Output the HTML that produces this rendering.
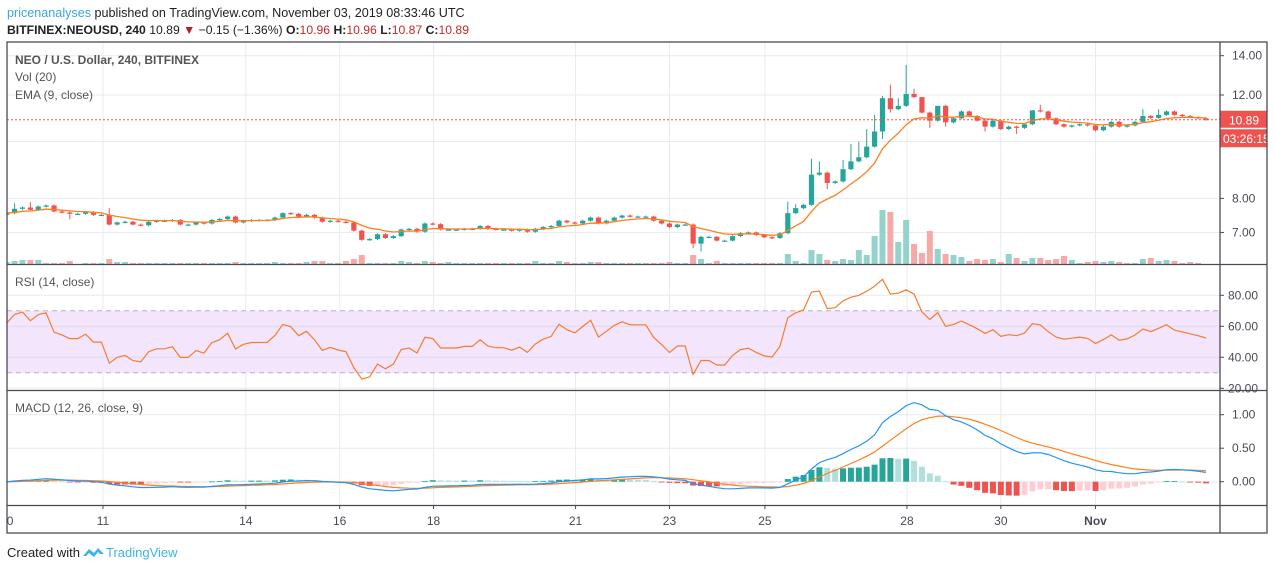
<!DOCTYPE html>
<html><head><meta charset="utf-8">
<style>
body{margin:0;background:#fff;width:1274px;height:570px;overflow:hidden;font-family:"Liberation Sans",sans-serif}
svg text{font-family:"Liberation Sans",sans-serif}
</style></head>
<body>
<svg id="chart" width="1274" height="570" viewBox="0 0 1274 570" xmlns="http://www.w3.org/2000/svg">
<defs>
<clipPath id="cMain"><rect x="7" y="42" width="1213" height="222"/></clipPath>
<clipPath id="cRsi"><rect x="7" y="265" width="1213" height="125"/></clipPath>
<clipPath id="cMacd"><rect x="7" y="391" width="1213" height="114"/></clipPath>
<clipPath id="cAxis"><rect x="7" y="505" width="1213" height="28"/></clipPath>
<clipPath id="cLbl"><rect x="1220" y="100" width="47" height="60"/></clipPath>
</defs>
<text x="7" y="17" font-size="12.6"><tspan fill="#3ba6dc">pricenanalyses</tspan><tspan fill="#222"> published on TradingView.com, November 03, 2019 08:33:46 UTC</tspan></text>
<text x="7" y="34" font-size="12.2" fill="#222"><tspan font-weight="bold">BITFINEX:NEOUSD, 240</tspan><tspan> 10.89 </tspan><tspan fill="#b71c1c">▼</tspan><tspan> −0.15 (−1.36%) </tspan><tspan font-weight="bold">O:</tspan><tspan fill="#c62828">10.96 </tspan><tspan font-weight="bold">H:</tspan><tspan fill="#c62828">10.96 </tspan><tspan font-weight="bold">L:</tspan><tspan fill="#c62828">10.87 </tspan><tspan font-weight="bold">C:</tspan><tspan fill="#c62828">10.89</tspan></text>
<g id="grid"></g>
<g id="main" clip-path="url(#cMain)"></g>
<g id="rsi" clip-path="url(#cRsi)"></g>
<g id="macd" clip-path="url(#cMacd)"></g>
<g id="axes"></g>
<text x="15" y="64" font-size="12" fill="#555" font-weight="bold">NEO / U.S. Dollar, 240, BITFINEX</text>
<text x="15" y="81" font-size="12" fill="#555">Vol (20)</text>
<text x="15" y="99" font-size="12" fill="#555">EMA (9, close)</text>
<text x="15" y="286" font-size="12" fill="#555">RSI (14, close)</text>
<text x="15" y="412" font-size="12" fill="#555">MACD (12, 26, close, 9)</text>
<g fill="none" stroke="#4a4a55" stroke-width="1.3">
<rect x="7" y="42" width="1260" height="491"/>
<line x1="1220" y1="42" x2="1220" y2="533"/>
<line x1="7" y1="264.5" x2="1267" y2="264.5"/>
<line x1="7" y1="390.5" x2="1267" y2="390.5"/>
<line x1="7" y1="505.5" x2="1267" y2="505.5"/>
</g>
<text x="7" y="557" font-size="13" fill="#222">Created with</text>
<g>
<path d="M83 556 l6 -7 l5 4 l4 -5 l6 6 l-4 0 l-2 -2 l-4 5 l-5 -4 l-3 3z" fill="#3db4e8"/>
<text x="106" y="557" font-size="13" fill="#3db4e8">TradingView</text>
</g>
</svg>
<script>
const closes=[7.55,7.68,7.72,7.65,7.75,7.78,7.6,7.57,7.53,7.53,7.58,7.5,7.5,7.22,7.28,7.3,7.22,7.2,7.3,7.33,7.33,7.35,7.22,7.22,7.28,7.25,7.35,7.38,7.45,7.28,7.33,7.35,7.35,7.35,7.42,7.55,7.53,7.45,7.5,7.42,7.3,7.33,7.3,7.28,7.05,6.8,6.82,6.95,6.85,6.9,7.08,7.1,7.02,7.25,7.23,7.08,7.08,7.08,7.1,7.1,7.18,7.1,7.08,7.08,7.05,7.08,7.02,7.1,7.15,7.18,7.33,7.28,7.25,7.33,7.42,7.25,7.33,7.42,7.48,7.45,7.45,7.45,7.33,7.25,7.15,7.22,7.22,6.7,6.88,6.88,6.78,6.78,6.9,6.98,7.0,6.93,6.87,6.85,6.98,7.55,7.7,7.8,8.78,8.85,8.5,8.55,8.97,9.25,9.4,9.8,10.4,11.85,11.35,11.5,12.05,11.9,11.2,10.85,11.5,10.78,10.95,11.25,11.05,10.85,10.6,10.85,10.5,10.6,10.55,10.7,11.3,11.25,10.95,10.7,10.6,10.65,10.7,10.65,10.45,10.6,10.8,10.6,10.65,10.8,11.05,10.97,11.1,11.25,11.1,11.05,11.0,10.95,10.89];
const opens=[7.5].concat(closes.slice(0,-1));
const volumes=[2,3,4,4,4,1,1,1,3,0,1,1,1,5,2,2,1,1,1,1,1,1,1,1,1,1,1,1,1,2,1,1,1,1,2,1,1,1,2,3,3,1,1,3,5,9,1,1,1,1,3,2,1,3,2,1,2,1,1,1,1,1,1,1,1,1,1,3,1,1,3,2,1,1,2,2,1,1,1,1,1,1,1,1,2,1,1,9,5,1,3,1,1,1,1,1,1,1,1,10,3,1,14,10,4,3,5,4,14,9,28,54,52,22,44,20,11,33,15,10,9,7,3,5,4,5,2,10,6,3,6,6,4,5,8,4,1,2,3,2,3,2,1,1,5,6,3,4,3,1,2,1,0];
const highOverrides={1:7.85,3:7.88,13:7.7,87:7.25,99:7.9,100:7.82,102:9.35,103:9.25,106:9.3,107:9.9,108:10.0,109:10.5,110:11.1,111:11.95,112:12.5,113:11.85,114:13.5,115:12.3,116:11.9,118:11.5,130:11.3,131:11.55,144:11.35,146:11.35};
const lowOverrides={8:7.37,87:6.58,88:6.5,104:8.3,111:10.1,112:11.2,117:10.55,119:10.6,124:10.4,128:10.3,138:10.4};
const priceTicks=[14,12,8,7];
const rsiTicks=[80,60,40,20];
const macdTicks=[1.0,0.5,0.0];
const dateLabels=["10","11","14","16","18","21","23","25","28","30","Nov"];
const dateIndex=[0,12.2,30.3,42.2,54.1,72.1,84,96.1,114.1,126,138];

const NS="http://www.w3.org/2000/svg";
function mk(parent,tag,attrs){const e=document.createElementNS(NS,tag);for(const k in attrs)e.setAttribute(k,attrs[k]);parent.appendChild(e);return e;}
const X=i=>6.7+i*7.89;
const Yp=p=>95-255*Math.log(p/12);
const Yv=v=>264-v;
const Yr=v=>419.3-1.55*v;
const Ym=v=>481.7-67*v;
const G="#26a69a",R="#ef5350";
const main=document.getElementById('main'),rsiG=document.getElementById('rsi'),macdG=document.getElementById('macd'),axes=document.getElementById('axes'),grid=document.getElementById('grid');

[14,12,10,8,7].forEach(p=>{const l=mk(grid,'line',{x1:7,x2:1220,y1:Yp(p),y2:Yp(p),stroke:"#e6ecf2"});

});
rsiTicks.forEach(v=>{const l=mk(grid,'line',{x1:7,x2:1220,y1:Yr(v),y2:Yr(v),stroke:"#e6ecf2"});

});
macdTicks.forEach(v=>{const l=mk(grid,'line',{x1:7,x2:1220,y1:Ym(v),y2:Ym(v),stroke:"#e6ecf2"});

});
dateIndex.forEach((d,k)=>{if(k===0)return;const l=mk(grid,'line',{x1:X(d),x2:X(d),y1:42,y2:505,stroke:"#e6ecf2"});

});

volumes.forEach((v,i)=>{const up=closes[i]>=opens[i];
const r=mk(main,'rect',{x:X(i)-3,y:Yv(v),width:6,height:v,fill:up?"#93d3cc":"#f7a9a7"});

});
closes.forEach((c,i)=>{const o=opens[i];const up=c>=o;const col=up?G:R;
const hi=highOverrides[i]!==undefined?highOverrides[i]:Math.max(o,c)*1.004;
const lo=lowOverrides[i]!==undefined?lowOverrides[i]:Math.min(o,c)*0.996;
const w=mk(main,'line',{x1:X(i),x2:X(i),y1:Yp(hi),y2:Yp(lo),stroke:col,'stroke-width':1});


const t=Math.min(Yp(o),Yp(c)),h=Math.max(1.2,Math.abs(Yp(o)-Yp(c)));
const b=mk(main,'rect',{x:X(i)-2.6,y:t,width:5.2,height:h,fill:col});

});
function ema(arr,n){const a=2/(n+1);const out=[];let e=arr[0];arr.forEach((v,i)=>{e=i===0?v:a*v+(1-a)*e;out.push(e);});return out;}
const ema9=ema(closes,9);
const emaPath=mk(main,'path',{d:ema9.map((v,i)=>(i?'L':'M')+X(i).toFixed(1)+' '+Yp(v).toFixed(1)).join(''),fill:'none',stroke:'#ff7f1e','stroke-width':1.3});


const last=closes[closes.length-1];
const pl=mk(main,'line',{x1:7,x2:1220,y1:Yp(last),y2:Yp(last),stroke:R,'stroke-dasharray':'2 2'});



const band=mk(rsiG,'rect',{x:7,y:Yr(70),width:1213,height:Yr(30)-Yr(70),fill:'#f3e6fc'});


[70,30].forEach(v=>{const l=mk(rsiG,'line',{x1:7,x2:1220,y1:Yr(v),y2:Yr(v),stroke:'#b7b0bd','stroke-dasharray':'5 4'});

});
[60,40].forEach(v=>{mk(rsiG,'line',{x1:7,x2:1220,y1:Yr(v),y2:Yr(v),stroke:'#e2d8ee'});});
let ag=0.036,al=0.022;const rsi=[];
closes.forEach((c,i)=>{if(i>0){const d=c-closes[i-1];ag=(ag*13+Math.max(d,0))/14;al=(al*13+Math.max(-d,0))/14;}rsi.push(100-100/(1+ag/Math.max(al,1e-9)));});
const rp=mk(rsiG,'path',{d:rsi.map((v,i)=>(i?'L':'M')+X(i).toFixed(1)+' '+Yr(v).toFixed(1)).join(''),fill:'none',stroke:'#f57c2f','stroke-width':1.2});



const e12=ema(closes,12),e26=ema(closes,26);
const macd=e12.map((v,i)=>v-e26[i]);
const sig=ema(macd,9);
const hist=macd.map((v,i)=>v-sig[i]);
hist.forEach((h,i)=>{const prev=i?hist[i-1]:0;let col;
if(h>=0)col=h>=prev?G:'#b2dfdb';else col=h<=prev?R:'#ffcdd2';
const y=Math.min(Ym(0),Ym(h)),ht=Math.max(0.8,Math.abs(Ym(h)-Ym(0)));
const r=mk(macdG,'rect',{x:X(i)-3,y:y,width:6,height:ht,fill:col});

});
const sp=mk(macdG,'path',{d:sig.map((v,i)=>(i?'L':'M')+X(i).toFixed(1)+' '+Ym(v).toFixed(1)).join(''),fill:'none',stroke:'#ff7f1e','stroke-width':1.2});


const mp=mk(macdG,'path',{d:macd.map((v,i)=>(i?'L':'M')+X(i).toFixed(1)+' '+Ym(v).toFixed(1)).join(''),fill:'none',stroke:'#2196f3','stroke-width':1.2});



function lbl(parent,x,y,txt,name,extra){const t=mk(parent,'text',Object.assign({x:x,y:y,'font-size':12,fill:'#4a4a55'},extra||{}));t.textContent=txt;

return t;}
priceTicks.forEach(p=>{mk(axes,'line',{x1:1220,x2:1224,y1:Yp(p),y2:Yp(p),stroke:'#4a4a55'});lbl(axes,1232,Yp(p)+4,p.toFixed(2),'price-tick-label');});
rsiTicks.forEach(v=>{mk(axes,'line',{x1:1220,x2:1224,y1:Yr(v),y2:Yr(v),stroke:'#4a4a55'});lbl(axes,1228,Yr(v)+4,v.toFixed(2),'rsi-tick-label');});
macdTicks.forEach(v=>{mk(axes,'line',{x1:1220,x2:1224,y1:Ym(v),y2:Ym(v),stroke:'#4a4a55'});lbl(axes,1232,Ym(v)+4,v.toFixed(2),'macd-tick-label');});
const ax=mk(axes,'g',{'clip-path':'url(#cAxis)'});
dateLabels.forEach((d,k)=>{const x=X(dateIndex[k]);mk(ax,'line',{x1:x,x2:x,y1:505,y2:509,stroke:'#4a4a55'});
lbl(ax,x,525,d,'date-label',{'text-anchor':'middle','font-weight':d==='Nov'?'bold':'normal'});});
const lg=mk(axes,'g',{'clip-path':'url(#cLbl)'});


mk(lg,'rect',{x:1220,y:Yp(last)-9,width:47,height:17,fill:R});
lbl(lg,1229,Yp(last)+4.5,last.toFixed(2),'last-price-value',{fill:'#fff'});
mk(lg,'rect',{x:1220,y:Yp(last)+9.5,width:47,height:18,fill:R});
lbl(lg,1223,Yp(last)+23,'03:26:15','bar-countdown',{fill:'#fff'});
</script>
</body></html>
